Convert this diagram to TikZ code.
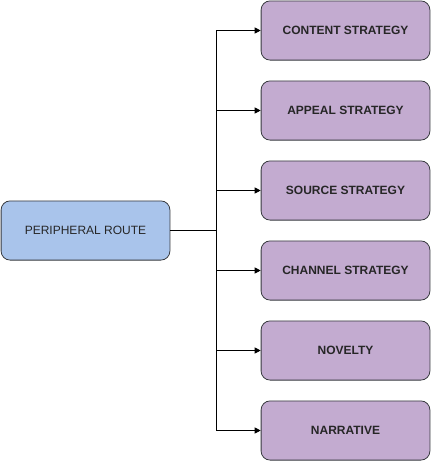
\documentclass[tikz,border=0pt]{standalone}
\usepackage{fontspec}
\setmainfont{Liberation Sans}
\usetikzlibrary{positioning,arrows.meta}
\definecolor{routeblue}{HTML}{A9C4EB}
\definecolor{stratpurple}{HTML}{C3ABD0}
\definecolor{edgegrey}{HTML}{36393D}
\begin{document}
\begin{tikzpicture}[x=1pt, y=-1pt,
box/.style={draw=edgegrey, line width=0.8pt, rounded corners=9pt, minimum width=168.8pt, minimum height=59.2pt, inner sep=0pt, text=black!85, font=\fontsize{12}{14}\selectfont},
route/.style={box, fill=routeblue},
strat/.style={box, fill=stratpurple, font=\fontsize{12}{14}\selectfont\bfseries},
link/.style={line width=0.8pt, -{Triangle[length=6pt, width=6pt]}}
]
\useasboundingbox (0,0) rectangle (431,461);
%Nodes
\node[route]     (pr)     at (85.5,230.5)          {PERIPHERAL ROUTE};
\node[strat]     (s1)     at (345.5,30.5)          {CONTENT STRATEGY};
\node[strat]     (s2)     [below=20pt of s1]       {APPEAL STRATEGY};
\node[strat]     (s3)     [below=20pt of s2]       {SOURCE STRATEGY};
\node[strat]     (s4)     [below=20pt of s3]       {CHANNEL STRATEGY};
\node[strat]     (s5)     [below=20pt of s4]       {NOVELTY};
\node[strat]     (s6)     [below=20pt of s5]       {NARRATIVE};
\coordinate      (hub)    at (216,230.5);
%Lines
\draw[line width=0.8pt] (pr) -- (hub);
\draw[link] (hub) |- (s1.west);
\draw[link] (hub) |- (s2.west);
\draw[link] (hub) |- (s3.west);
\draw[link] (hub) |- (s4.west);
\draw[link] (hub) |- (s5.west);
\draw[link] (hub) |- (s6.west);
\end{tikzpicture}
\end{document}
